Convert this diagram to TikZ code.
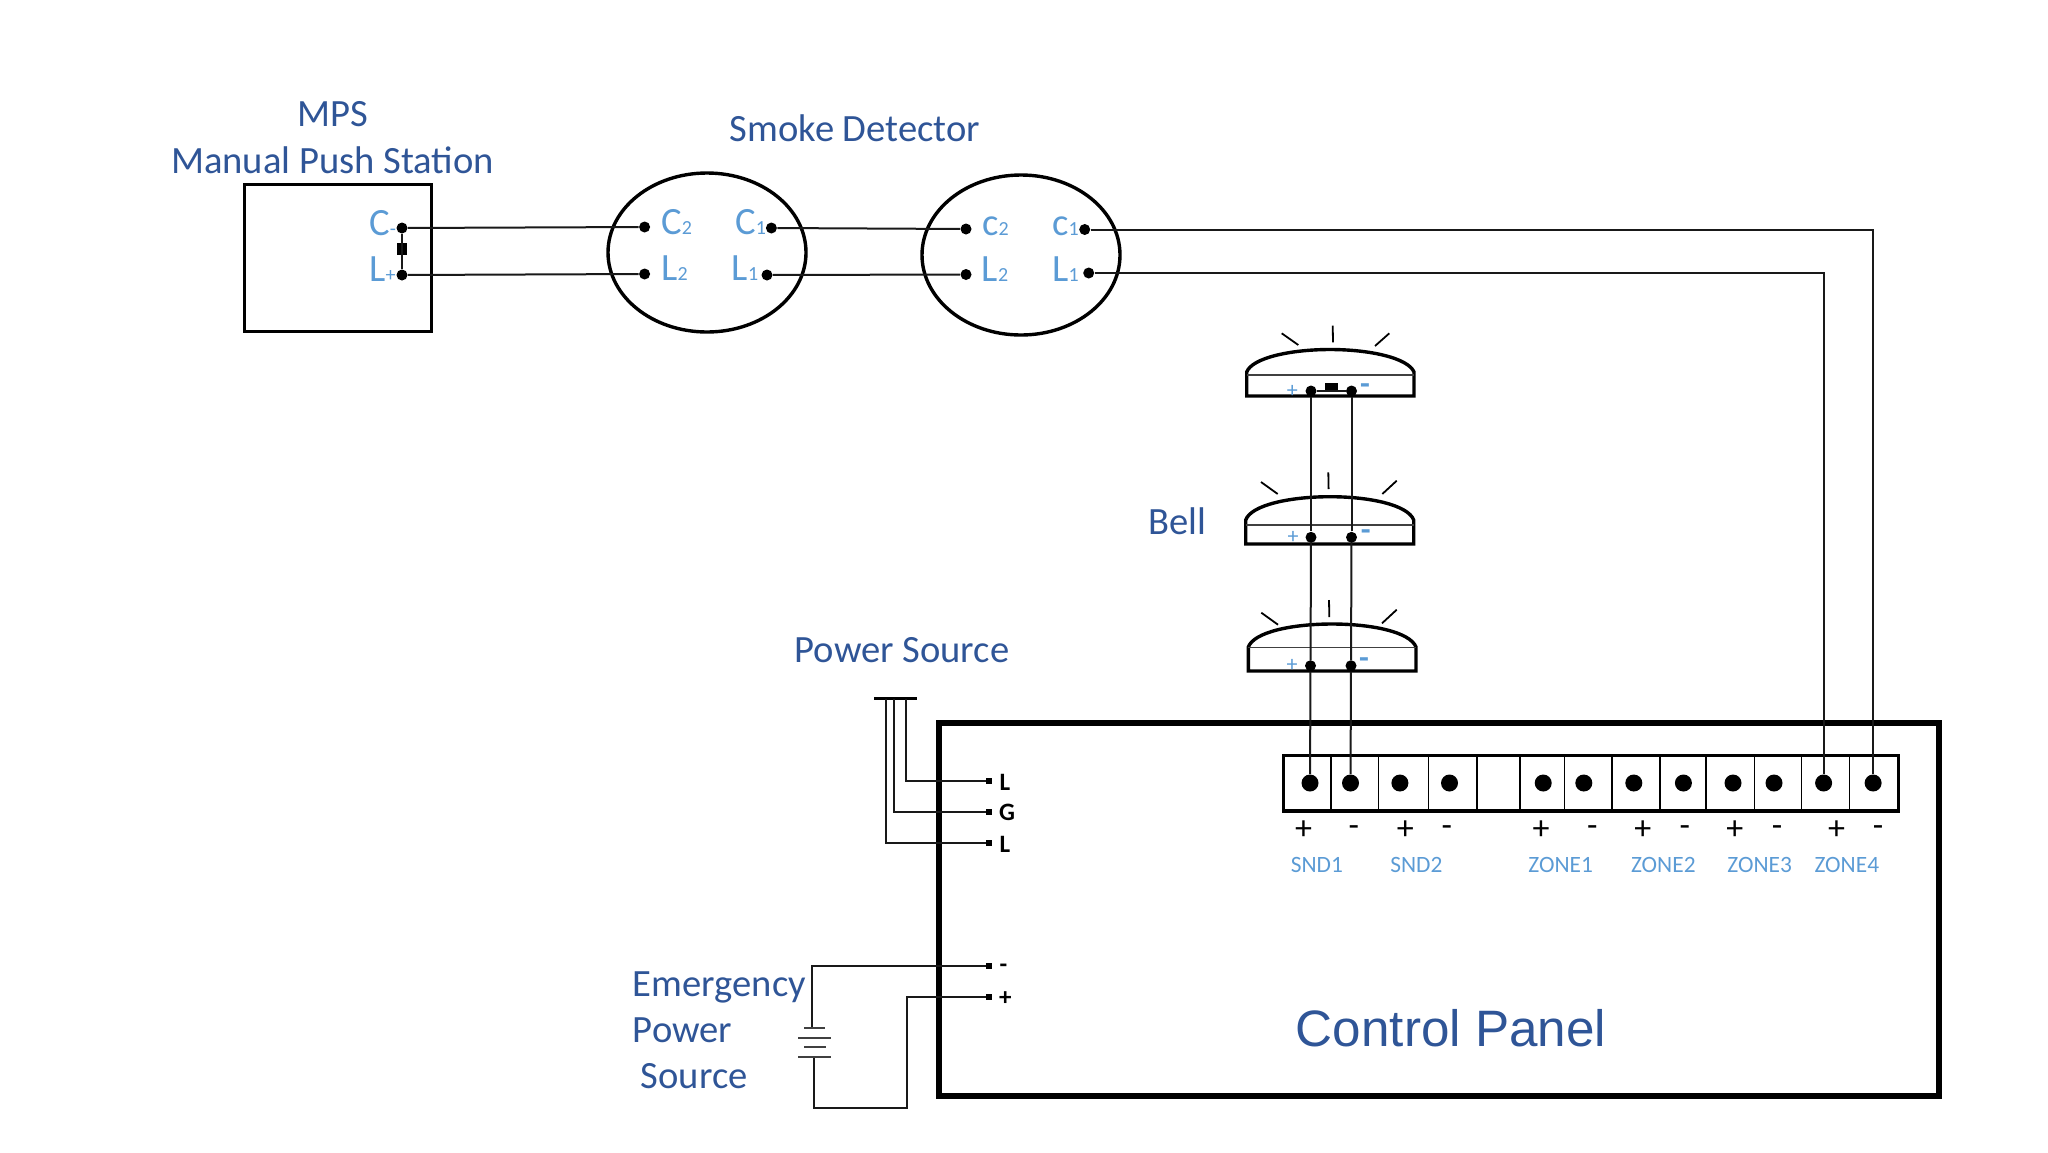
\documentclass[tikz,border=0pt]{standalone}
\usepackage{fontspec}
\setmainfont{Carlito}
\newfontfamily\panelfont{Liberation Sans}
\usetikzlibrary{shapes.geometric}
\definecolor{titleblue}{HTML}{2F5597}
\definecolor{pinblue}{HTML}{5B9BD5}
\newcommand{\pinsub}[2]{#1{\fontsize{10}{10}\selectfont #2}}
\begin{document}
\begin{tikzpicture}[x=0.5pt,y=-0.5pt]
\tikzstyle{title label} = [inner sep=0pt, text=titleblue, font=\fontsize{19.3}{23}\selectfont]
\tikzstyle{pin label} = [inner sep=0pt, anchor=base west, text=pinblue, font=\fontsize{19.3}{23}\selectfont]
\tikzstyle{bell mark} = [inner sep=0pt, text=pinblue, font=\fontsize{11}{11}\selectfont]
\tikzstyle{zone label} = [inner sep=0pt, text=pinblue, font=\fontsize{11.7}{14}\selectfont]
\tikzstyle{strip mark} = [inner sep=0pt, text=black, font=\fontsize{17}{17}\selectfont]
\tikzstyle{supply label} = [inner sep=0pt, text=black, font=\bfseries\fontsize{12.5}{14}\selectfont]
\tikzstyle{wire} = [draw, color=black!90, line width=1pt]
\tikzstyle{thin line} = [draw, color=black!75, line width=0.6pt]
\tikzstyle{ray} = [draw, color=black, line width=0.9pt]
\tikzstyle{bell body} = [draw, color=black, line width=1.7pt]
\tikzstyle{box edge} = [draw, color=black, line width=1.7pt, inner sep=0pt]
\tikzstyle{strip edge} = [draw, color=black, line width=0.8pt]
\tikzstyle{pin} = [circle, fill=black, inner sep=0pt, minimum size=5.5pt]
\tikzstyle{strip pin} = [circle, fill=black, inner sep=0pt, minimum size=8.5pt]
\tikzstyle{supply pin} = [rectangle, fill=black, inner sep=0pt, minimum size=2.8pt]
\tikzstyle{link} = [rectangle, fill=black, inner sep=0pt, minimum width=5pt, minimum height=6pt]
\useasboundingbox (0,0) rectangle (2048,1152);
% boxes
\node[box edge, rectangle, minimum width=93.5pt, minimum height=73.7pt] (v_mps) at (338,258) {};
\node[box edge, ellipse, minimum width=99pt, minimum height=79.5pt] (v_smoke_2) at (707,252.5) {};
\node[box edge, ellipse, minimum width=99pt, minimum height=80pt] (v_smoke_1) at (1021,255) {};
\node[box edge, rectangle, line width=3pt, minimum width=500pt, minimum height=186.5pt] (v_panel) at (1439,909.5) {};
\node[box edge, rectangle, minimum width=307.6pt, minimum height=27.8pt] (v_strip) at (1591,783) {};
% titles
\node[title label] (t_mps) at (333,114) {MPS};
\node[title label] (t_push) at (332.5,160) {Manual Push Station};
\node[title label] (t_smoke) at (855,128) {Smoke Detector};
\node[title label] (t_bell) at (1177,521) {Bell};
\node[title label] (t_source) at (902,650) {Power Source};
\node[title label, anchor=west] (t_em_1) at (632.5,987) {Emergency};
\node[title label, anchor=west] (t_em_2) at (632.5,1030) {Power};
\node[title label, anchor=west] (t_em_3) at (640.5,1076) {Source};
\node[inner sep=0pt, text=titleblue, font=\panelfont\fontsize{25.6}{30}\selectfont] (t_panel) at (1451,1028.5) {Control Panel};
% pin labels
\node[pin label] (t_mps_c) at (369,235.5) {\pinsub{C}{-}};
\node[pin label] (t_mps_l) at (369,281.5) {\pinsub{L}{+}};
\node[pin label] (t_s2_c2) at (661,234) {\pinsub{C}{2}};
\node[pin label] (t_s2_l2) at (661,280) {\pinsub{L}{2}};
\node[pin label] (t_s2_c1) at (735,234) {\pinsub{C}{1}};
\node[pin label] (t_s2_l1) at (731.5,280) {\pinsub{L}{1}};
\node[pin label] (t_s1_c2) at (982,235) {\pinsub{c}{2}};
\node[pin label] (t_s1_l2) at (981.5,281) {\pinsub{L}{2}};
\node[pin label] (t_s1_c1) at (1052,235) {\pinsub{c}{1}};
\node[pin label] (t_s1_l1) at (1052,281) {\pinsub{L}{1}};
% pins
\node[pin] (v_mps_c) at (402,228) {};
\node[pin] (v_mps_l) at (402,275) {};
\node[pin] (v_s2_c2) at (644.6,227) {};
\node[pin] (v_s2_l2) at (644.6,274) {};
\node[pin] (v_s2_c1) at (771.4,228) {};
\node[pin] (v_s2_l1) at (767,275) {};
\node[pin] (v_s1_c2) at (966,229) {};
\node[pin] (v_s1_l2) at (966,274.5) {};
\node[pin] (v_s1_c1) at (1084.7,229.5) {};
\node[pin] (v_s1_l1) at (1088.7,273) {};
\node[link] (v_mps_link) at (402,249) {};
% bells
\path[bell body] (1246.7,396) -- (1246.7,372) .. controls (1252,358) and (1290,349.5) .. (1330,349.5) .. controls (1370,349.5) and (1408,358) .. (1414,372) -- (1414,396) -- cycle;
\path[thin line] (1246.7,375) -- (1414,375);
\path[ray] (1281.7,333.3) -- (1298.3,345);
\path[ray] (1332.7,325.7) -- (1333,342.3);
\path[ray] (1375,346) -- (1389.3,333.3);
\path[bell body] (1245.7,544) -- (1245.7,520) .. controls (1251,505) and (1290,496.7) .. (1330,496.7) .. controls (1370,496.7) and (1408,505) .. (1413.7,520) -- (1413.7,544) -- cycle;
\path[thin line] (1245.7,525) -- (1413.7,525);
\path[ray] (1261,482) -- (1277.7,494);
\path[ray] (1328.3,472.3) -- (1328.6,489);
\path[ray] (1382.3,494) -- (1396.7,480.7);
\path[bell body] (1248.3,671) -- (1248.3,647) .. controls (1254,632) and (1292,624) .. (1332,624) .. controls (1372,624) and (1410,632) .. (1416,647) -- (1416,671) -- cycle;
\path[thin line] (1248.3,647.3) -- (1416,647.3);
\path[ray] (1261.3,612.7) -- (1278,624.7);
\path[ray] (1329,600) -- (1329.3,617);
\path[ray] (1382,623.3) -- (1396.7,609.7);
\node[pin] (v_b1_p) at (1311,391) {};
\node[pin] (v_b1_n) at (1351.5,391) {};
\node[pin] (v_b2_p) at (1311,537.3) {};
\node[pin] (v_b2_n) at (1351.5,537.3) {};
\node[pin] (v_b3_p) at (1310.5,665.7) {};
\node[pin] (v_b3_n) at (1351,665.7) {};
\node[link, minimum width=6.5pt, minimum height=4.5pt] (v_b1_link) at (1331.3,387) {};
\node[bell mark] (t_b1_p) at (1292.3,391) {+};
\node[bell mark, font=\bfseries\fontsize{16}{16}\selectfont] (t_b1_n) at (1365,389) {-};
\node[bell mark] (t_b2_p) at (1293,537.5) {+};
\node[bell mark, font=\bfseries\fontsize{16}{16}\selectfont] (t_b2_n) at (1365.7,535) {-};
\node[bell mark] (t_b3_p) at (1292,665.7) {+};
\node[bell mark, font=\bfseries\fontsize{16}{16}\selectfont] (t_b3_n) at (1364,663) {-};
% terminal strip
\path[strip edge] (1331.2,755) -- (1331.2,811);
\path[strip edge] (1378.5,755) -- (1378.5,811);
\path[strip edge] (1428.5,755) -- (1428.5,811);
\path[strip edge] (1476.7,755) -- (1476.7,811);
\path[strip edge] (1520,755) -- (1520,811);
\path[strip edge] (1564.6,755) -- (1564.6,811);
\path[strip edge] (1612,755) -- (1612,811);
\path[strip edge] (1659.7,755) -- (1659.7,811);
\path[strip edge] (1706.2,755) -- (1706.2,811);
\path[strip edge] (1754.4,755) -- (1754.4,811);
\path[strip edge] (1801.3,755) -- (1801.3,811);
\path[strip edge] (1849.5,755) -- (1849.5,811);
\node[strip pin] (v_t_1) at (1310,783) {};
\node[strip pin] (v_t_2) at (1350.5,783) {};
\node[strip pin] (v_t_3) at (1399.9,783) {};
\node[strip pin] (v_t_4) at (1449.5,783) {};
\node[strip pin] (v_t_5) at (1543.2,783) {};
\node[strip pin] (v_t_6) at (1583.8,783) {};
\node[strip pin] (v_t_7) at (1633.8,783) {};
\node[strip pin] (v_t_8) at (1683.4,783) {};
\node[strip pin] (v_t_9) at (1733,783) {};
\node[strip pin] (v_t_10) at (1774,783) {};
\node[strip pin] (v_t_11) at (1823.6,783) {};
\node[strip pin] (v_t_12) at (1873.1,783) {};
\node[strip mark] (t_m_1) at (1303.5,830) {+};
\node[strip mark] (t_m_2) at (1353.9,831) {-};
\node[strip mark] (t_m_3) at (1405.3,830) {+};
\node[strip mark] (t_m_4) at (1446.8,831) {-};
\node[strip mark] (t_m_5) at (1541,830) {+};
\node[strip mark] (t_m_6) at (1592.3,831) {-};
\node[strip mark] (t_m_7) at (1642.8,830) {+};
\node[strip mark] (t_m_8) at (1684.7,831) {-};
\node[strip mark] (t_m_9) at (1734.7,830) {+};
\node[strip mark] (t_m_10) at (1777.1,831) {-};
\node[strip mark] (t_m_11) at (1836.5,830) {+};
\node[strip mark] (t_m_12) at (1878,831) {-};
\node[zone label] (t_snd_1) at (1316.9,865) {SND1};
\node[zone label] (t_snd_2) at (1416.4,865) {SND2};
\node[zone label] (t_zone_1) at (1560.6,865) {ZONE1};
\node[zone label] (t_zone_2) at (1663.3,865) {ZONE2};
\node[zone label] (t_zone_3) at (1759.7,865) {ZONE3};
\node[zone label] (t_zone_4) at (1846.8,865) {ZONE4};
% supply side
\node[supply pin] (v_l_1) at (988.7,780.7) {};
\node[supply pin] (v_g) at (988.7,811.7) {};
\node[supply pin] (v_l_2) at (988.7,842.7) {};
\node[supply pin] (v_bat_n) at (988.7,965.7) {};
\node[supply pin] (v_bat_p) at (988.7,996.7) {};
\node[supply label] (t_l_1) at (1005,782) {L};
\node[supply label] (t_g) at (1007,812.7) {G};
\node[supply label] (t_l_2) at (1005,844) {L};
\node[supply label] (t_bat_n) at (1003.5,968) {-};
\node[supply label] (t_bat_p) at (1005.3,998.5) {+};
\coordinate (c_bus_1) at (905.7,698.7);
\coordinate (c_bus_2) at (894.3,698.7);
\coordinate (c_bus_3) at (885.7,698.7);
\coordinate (c_plate_1) at (811.7,1027.7);
\coordinate (c_plate_4) at (813.7,1056.7);
\coordinate (c_top_c) at (1873.1,229.5);
\coordinate (c_top_l) at (1823.6,273);
\path[draw, color=black, line width=1.5pt] (874,698.7) -- (917.3,698.7);
\path[wire] (c_bus_1) |- (v_l_1);
\path[wire] (c_bus_2) |- (v_g);
\path[wire] (c_bus_3) |- (v_l_2);
\path[wire] (v_bat_n) -| (c_plate_1);
\path[wire] (c_plate_4) |- (906.7,1107.7) |- (v_bat_p);
\path[thin line, line width=0.9pt] (804,1027.7) -- (825,1027.7);
\path[thin line, line width=0.9pt] (798.3,1038.3) -- (830.7,1038.3);
\path[thin line, line width=0.9pt] (804.3,1047.3) -- (825.7,1047.3);
\path[thin line, line width=0.9pt] (798.3,1056.7) -- (830.7,1056.7);
% wiring
\path[wire] (v_mps_c) -- (v_mps_l);
\path[wire] (v_mps_c) -- (v_s2_c2);
\path[wire] (v_mps_l) -- (v_s2_l2);
\path[wire] (v_s2_c1) -- (v_s1_c2);
\path[wire] (v_s2_l1) -- (v_s1_l2);
\path[wire] (v_s1_c1) -- (c_top_c) -- (v_t_12);
\path[wire] (v_s1_l1) -- (c_top_l) -- (v_t_11);
\path[wire] (v_b1_p) -- (v_b1_n);
\path[wire] (v_b1_p) -- (v_b2_p);
\path[wire] (v_b1_n) -- (v_b2_n);
\path[wire] (v_b2_p) -- (v_b3_p);
\path[wire] (v_b2_n) -- (v_b3_n);
\path[wire] (v_b3_p) -- (v_t_1);
\path[wire] (v_b3_n) -- (v_t_2);
\end{tikzpicture}
\end{document}
